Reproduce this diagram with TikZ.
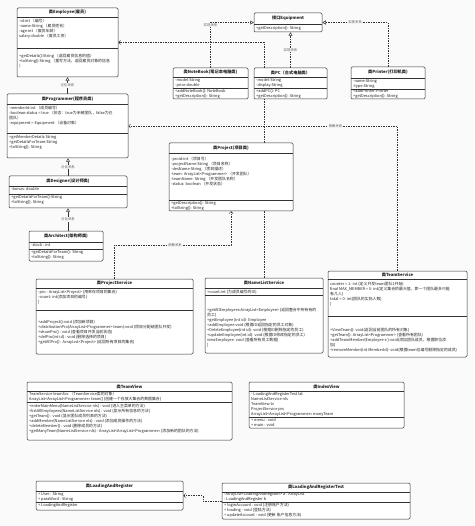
\documentclass[tikz,border=0pt]{standalone}
\usepackage{fontspec}
\setmainfont{Noto Sans CJK SC}
\usetikzlibrary{arrows.meta,fit,positioning}
\definecolor{pagebg}{HTML}{FAFAFA}
\definecolor{linegray}{HTML}{333333}
\definecolor{txtgray}{HTML}{222222}
\definecolor{lblgray}{HTML}{555555}
\pgfdeclarelayer{lines}
\pgfsetlayers{lines,main}
\tikzset{
	classbox/.style={draw=linegray, fill=white, rounded corners=1.2pt, line width=0.5pt, inner sep=0pt},
	sepline/.style={draw=linegray, line width=0.4pt},
	classtitle/.style={font=\fontsize{4.2}{5}\selectfont\bfseries, text=txtgray, inner sep=0pt},
	members/.style={font=\fontsize{3.9}{5}\selectfont, text=txtgray, align=left, anchor=north west, inner sep=0pt},
	inherit/.style={draw=linegray, line width=0.5pt, -{Triangle[open,length=3.5pt,width=4pt]}},
	realize/.style={inherit, dash pattern=on 1.5pt off 1pt},
	depend/.style={draw=linegray, line width=0.5pt, dash pattern=on 1.5pt off 1pt, -{Straight Barb[length=2pt,width=4pt]}},
	lbl/.style={font=\fontsize{3.4}{4}\selectfont, text=lblgray, fill=pagebg, inner sep=0.5pt},
}
\def\umlclass(#1)(#2,#3)(#4,#5)[#6,#7]#8{%
	\node[classbox, fit={(#2,#3) (#4,#5)}] (#1) {};
	\draw[sepline] (#2,#6) -- (#4,#6);
	\draw[sepline] (#2,#7) -- (#4,#7);
	\node[classtitle] (#1-title) at ({(#2+#4)/2},{(#3+#6)/2}) {#8};
}
\begin{document}
\begin{tikzpicture}[x=1pt,y=-1pt]
			\useasboundingbox (0,0) rectangle (474,526);
			\begin{pgfonlayer}{lines}
				\fill[pagebg] (0,0) rectangle (474,526);
			\end{pgfonlayer}
			
			%%%%% EMPLOYEE TREE %%%%%
			\umlclass(emp)(17,8)(118,77)[17,48]{类Employee(雇员)}
			\node[members] (emp-a) at (19,19) {-id:int （编号）\\-name:String （雇员姓名）\\-age:int （雇员年龄）\\salary:double （雇员工资）};
			\node[members] (emp-m) at (19,54) {+getDetails():String （返回雇员信息的值）\\+toString():String （重写方法，返回雇员对象的信息\\）};
			
			\umlclass(prog)(7,94)(128,158)[104,133]{类Programmer(程序员类)}
			\node[members] (prog-a) at (9,106) {-memberId:int （成员编号）\\-boolean:status = true （状态：true为未被团队，false为已\\团队）\\-equipment = Equipment （设备对象）};
			\node[members] (prog-m) at (9,135.5) {+getMemberDetails:String\\+getDetailsForTeam:String\\+toString(): String};
			
			\umlclass(des)(9,176)(127,208)[186,194]{类Designer(设计师类)}
			\node[members] (des-a) at (11,187.5) {-bonus: double};
			\node[members] (des-m) at (11,195.5) {+getDetailsForTeam():String\\+toString(): String};
			
			\umlclass(arch)(29,231)(103,261)[242,249]{类Architect(架构师类)}
			\node[members] (arch-a) at (31,243) {-stock : int};
			\node[members] (arch-m) at (31,250.5) {+getDetailsForTeam(): String\\+toString(): String};
			
			%%%%% EQUIPMENT %%%%%
			\umlclass(equip)(254,13)(322,32)[24,24]{接口Equipment}
			\node[members] (equip-m) at (256,26) {+getDescription(): String};
			
			\umlclass(nb)(173,68)(248,99)[77,88]{类NoteBook(笔记本电脑类)}
			\node[members] (nb-a) at (175,78.5) {-model:String\\-price:double};
			\node[members] (nb-m) at (175,89) {+addNoteBook(): NoteBook\\+getDescription(): String};
			
			\umlclass(pc)(254,68)(327,99)[77,88]{类PC（台式电脑类）}
			\node[members] (pc-a) at (256,78.5) {-model:String\\-display:String};
			\node[members] (pc-m) at (256,89) {+addPC(): PC\\+getDescription(): String};
			
			\umlclass(prn)(351,67)(425,99)[78,89]{类Printer(打印机类)}
			\node[members] (prn-a) at (353,79) {-name:String\\-type:String};
			\node[members] (prn-m) at (353,89.5) {+addPrinter:Printer\\+getDescription(): String};
			
			%%%%% PROJECT %%%%%
			\umlclass(proj)(169,143)(293,211)[153,200]{类Project(项目类)}
			\node[members] (proj-a) at (171,156.5) {-proid:int （项目号）\\-projectName:String （项目名称）\\-desName:String （项目描述）\\-team: ArrayList<Programmer> （开发团队）\\-teamName: String （开发团队名称）\\-status: boolean （开发状态）};
			\node[members] (proj-m) at (171,201.5) {+getDescription(): String\\+toString(): String};
			
			%%%%% SERVICES %%%%%
			\umlclass(ps)(36,279)(193,354)[288,310]{类ProjectService}
			\node[members] (ps-a) at (38,290.5) {-pro : ArrayList<Project> (用来存项目的集合)\\-count: int(添加项目的编号)\\\}};
			\node[members] (ps-m) at (38,320.5) {+addProject():void (添加新项目)\\+distributionPro(ArrayList<Programmer> team):void (项目分配给团队开发)\\+showPro() : void (查看项目开发当前状态)\\+delPro(int id) : void (删除选择的项目)\\+getAllPro() : ArrayList<Project> (返回所有项目的集合)};
			
			\umlclass(nls)(205,278)(323,353)[288,295]{类NameListService}
			\node[members] (nls-a) at (207,289.5) {+count:int (为成员编号的ID)};
			\node[members] (nls-m) at (207,308) {+getAllEmployees:ArrayList<Employee> (返回整合中所有有的\\员工)\\+getEmployee (int id): Employee\\+addEmployee:void (根据ID返回指定的员工对象)\\+DeleteEmployee(int id): void (根据ID删除指定的员工)\\+updateEmployee(int id): void (根据ID修改指定的员工)\\viewEmployee: void (查看所有员工数据)\\\}};
			
			\umlclass(ts)(328,271)(467,357)[279,316]{类TeamService}
			\node[members] (ts-a) at (330,282) {counter = 1: int (定义开发team团队1开始)\\final MAX\_MEMBER = 5: int(定义集合的最大值，即一个团队最多只能\\有几人)\\total = 0: int(团队的实际人数)\\\}};
			\node[members] (ts-m) at (330,328) {+ViewTeam(): void(返回当前团队的所有对象)\\+getTeam(): ArrayList<Programmer> (查看所有团队)\\+addTeamMember(Employee e ):void(添加团队成员，根据职位添\\加)\\+removeMember(int MemberId): void(根据team位编号删除指定的成员)};
			
			%%%%% VIEWS %%%%%
			\umlclass(tv)(27,382)(232,440)[391,402]{类TeamView}
			\node[members] (tv-a) at (29,392) {TeamService teamSvc （TeamService类的对象）\\ArrayList<ArrayList<Programmer>> team() (创建一个存放大集合的数据集合)};
			\node[members] (tv-m) at (29,404) {+enterMainMenu(NameListService nls) : void (进入主菜单的方法)\\+listAllEmployees(NameListService nls) : void (显示所有信息的方法)\\+getTeam() : void (显示团队成员列表的方法)\\+addMember(NameListService nls) : void (添加成员操作的方法)\\+deleteMember() : void (删除成员的方法)\\+getManyTeam(NameListService nls) : ArrayList<ArrayList<Programmer>> (添加新的团队的方法)};
			
			\umlclass(iv)(249,382)(404,428)[391,417]{类IndexView}
			\node[members] (iv-a) at (251,392) {- LoadingAndRegisterTest lat\\NameListService nls\\TeamView tv\\ProjectService prs\\ArrayList<ArrayList<Programmer>> manyTeam};
			\node[members] (iv-m) at (251,418) {+ menu : void\\+ main : void};
			
			%%%%% LOGIN %%%%%
			\umlclass(lr)(36,481)(183,510)[491,502]{类LoadingAndRegister}
			\node[members] (lr-a) at (38,492) {+ User : String\\+ passWord : String};
			\node[members] (lr-m) at (38,503.5) {+ LoadingAndRegister};
			
			\umlclass(lrt)(222,483)(410,519)[492,502]{类LoadingAndRegisterTest}
			\node[members] (lrt-a) at (224,492.5) {-ArrayList<LoadingAndRegister> a : ArrayList\\- LoadingAndRegister b};
			\node[members] (lrt-m) at (224,503) {+ loginAccount : void (注册账户方法)\\+ loading : void (登陆方法)\\+ updateAccount : void (更新 账户信息方法)};
			
			%%%%% RELATIONS %%%%%
			\begin{pgfonlayer}{lines}
				\draw[inherit] (prog.north) -- (emp.south) node[lbl, midway] (gen1) {泛化关系};
				\draw[inherit] (des.north) -- (des.north |- prog.south) node[lbl, midway] (gen2) {泛化关系};
				\draw[inherit] (des.south |- arch.north) -- (des.south) node[lbl, midway] (gen3) {泛化关系};
				
				\draw[realize] (nb.north) |- (equip.west) node[lbl, pos=0.47] (imp1) {实现关系};
				\draw[realize] (pc.north) -- (pc.north |- equip.south) node[lbl, midway] (imp2) {实现关系};
				\draw[realize] (prn.north) |- (equip.east) node[lbl, pos=0.75] (imp3) {实现关系};
				
				\draw[depend] ([xshift=59pt]nls.north west) |- (emp.east);
				\draw[depend] (ts.north) |- (prog.east) node[lbl, pos=0.615] (dep1) {依赖关系};
				\draw[depend] (ps.north) -- ++(0,-34) -| (proj.south) node[lbl, pos=0.26] (dep2) {依赖关系};
				\draw[depend] (lrt.west) -- ++(-19,0) |- (lr.east);
			\end{pgfonlayer}
\end{tikzpicture}
\end{document}
